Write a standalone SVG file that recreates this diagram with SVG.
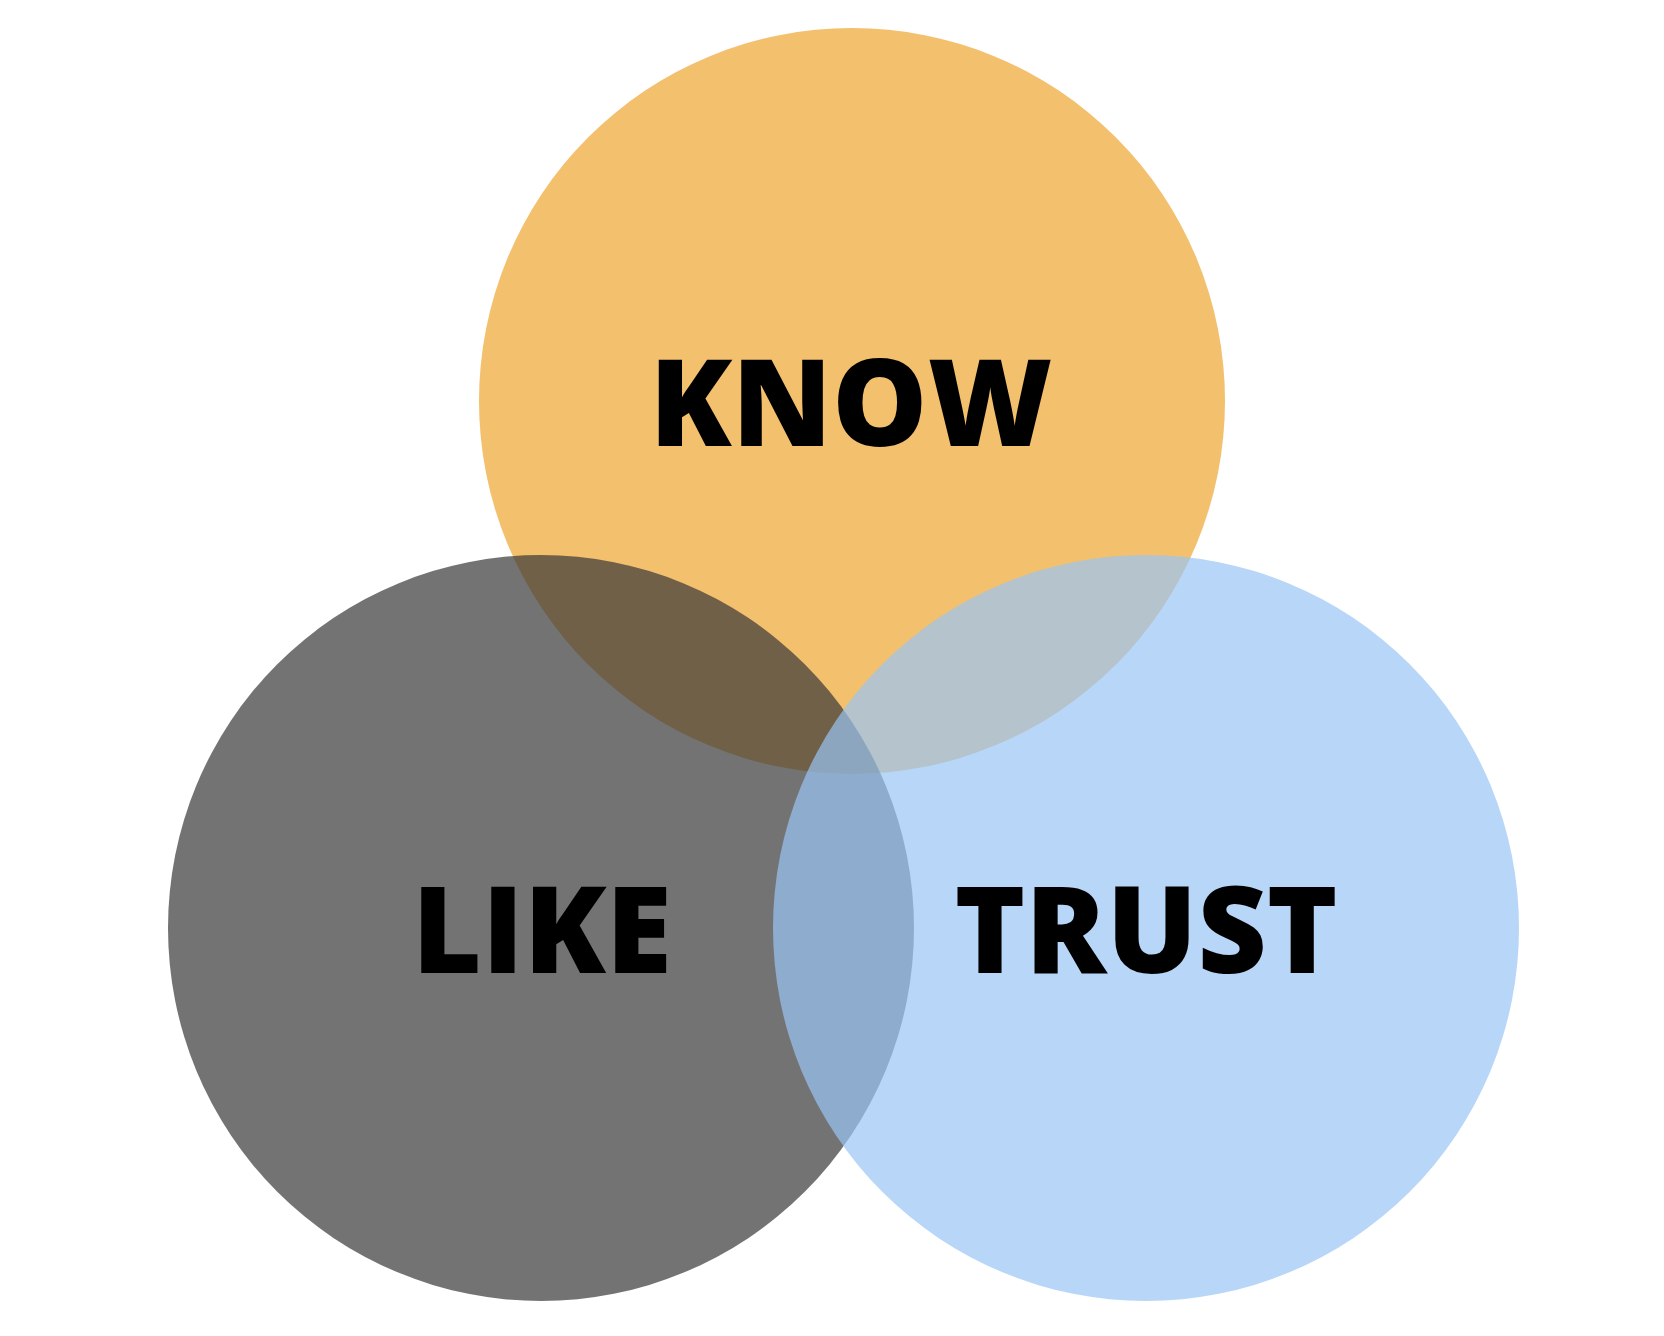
<svg xmlns="http://www.w3.org/2000/svg" width="1664" height="1336" viewBox="0 0 1664 1336">
<style>
.lbl{font-family:"Open Sans","Liberation Sans",sans-serif;font-weight:800;font-size:120px;fill:#000;text-anchor:middle}
</style>
<rect width="1664" height="1336" fill="#fff"/>
<g id="know"><circle cx="852" cy="401" r="373" fill="#f3c06e"/></g>
<g id="like"><circle cx="541" cy="928" r="373" fill="#373737" fill-opacity="0.7"/></g>
<g id="trust"><circle cx="1146" cy="928" r="373" fill="#9ac4f4" fill-opacity="0.7"/></g>
<g id="labels">
<text class="lbl" x="851" y="446">KNOW</text>
<text class="lbl" x="542" y="973">LIKE</text>
<text class="lbl" x="1146" y="973">TRUST</text>
</g>
<g id="connectors"/>
</svg>
